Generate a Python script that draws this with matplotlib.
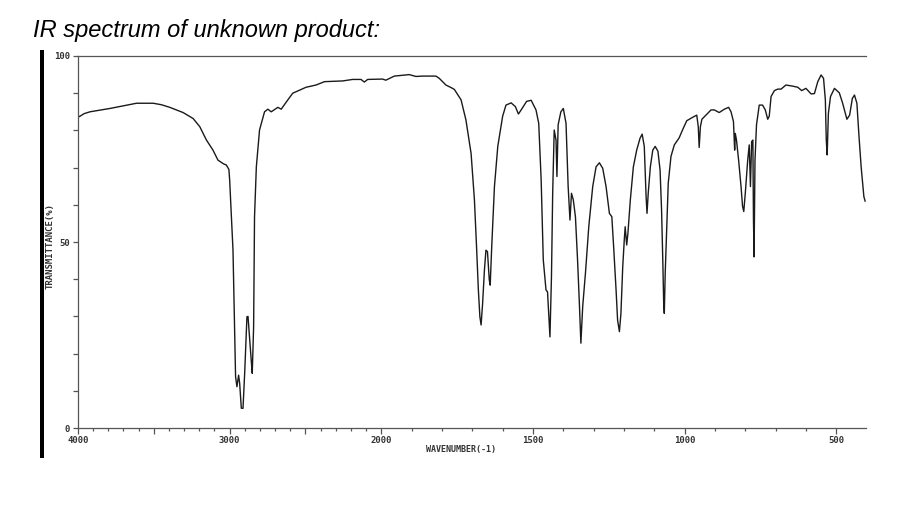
import numpy as np
import matplotlib
matplotlib.use("Agg")
import matplotlib.pyplot as plt
from matplotlib.patches import Rectangle

# ---- data ----
wavenumber = [
    4000, 3991, 3960, 3921, 3850, 3789, 3700, 3614, 3504, 3450, 3395, 3307, 3241, 3197,
    3153, 3110, 3077, 3040, 3022, 3005, 3000, 2978, 2961, 2952, 2941, 2934, 2923, 2912,
    2901, 2886, 2879, 2868, 2857, 2851, 2842, 2836, 2824, 2803, 2770, 2748, 2726, 2682,
    2660, 2620, 2584, 2496, 2430, 2375, 2254, 2189, 2134, 2112, 2090, 1996, 1985, 1957,
    1908, 1886, 1864, 1820, 1809, 1787, 1765, 1759, 1737, 1721, 1704, 1693, 1686, 1680,
    1675, 1671, 1666, 1660, 1655, 1650, 1644, 1641, 1636, 1627, 1616, 1600, 1589, 1572,
    1558, 1548, 1539, 1521, 1506, 1490, 1481, 1473, 1466, 1457, 1452, 1448, 1444, 1439,
    1435, 1430, 1424, 1421, 1417, 1408, 1400, 1391, 1384, 1378, 1373, 1367, 1360, 1353,
    1347, 1342, 1336, 1327, 1316, 1303, 1292, 1281, 1270, 1259, 1248, 1240, 1234, 1226,
    1221, 1215, 1210, 1204, 1199, 1196, 1191, 1187, 1179, 1169, 1158, 1147, 1140, 1133,
    1127, 1124, 1120, 1113, 1105, 1097, 1088, 1081, 1076, 1072, 1069, 1067, 1064, 1059,
    1054, 1045, 1034, 1018, 1007, 993, 974, 960, 955, 952, 948, 943, 930, 913,
    902, 886, 869, 855, 847, 839, 835, 833, 829, 822, 814, 809, 805, 800,
    792, 787, 783, 779, 775, 773, 771, 768, 763, 754, 743, 734, 726, 721,
    715, 704, 693, 682, 666, 644, 627, 614, 600, 583, 572, 561, 550, 542,
    536, 533, 530, 526, 519, 506, 490, 479, 465, 456, 447, 440, 432, 425,
    418, 409, 405,
]
transmittance = [
    84.0, 83.7, 84.5, 85.0, 85.5, 85.9, 86.6, 87.3, 87.3, 86.9, 86.2, 84.8, 83.2, 81.0,
    77.4, 74.7, 72.0, 71.0, 70.7, 69.5, 66.7, 47.8, 13.8, 11.1, 14.2, 12.0, 5.3, 5.3,
    14.7, 29.9, 30.0, 23.7, 17.8, 14.7, 27.2, 56.8, 70.2, 80.1, 85.0, 85.7, 85.0, 86.2,
    85.7, 88.0, 90.0, 91.6, 92.2, 93.1, 93.3, 93.7, 93.7, 93.0, 93.7, 93.8, 93.5, 94.6,
    95.0, 94.5, 94.6, 94.6, 94.0, 92.2, 91.3, 91.0, 88.2, 82.8, 73.8, 61.3, 48.7, 37.1,
    29.9, 27.7, 33.5, 42.5, 47.8, 47.4, 39.8, 38.4, 48.7, 64.9, 75.7, 83.8, 86.8, 87.4,
    86.4, 84.4, 85.5, 87.8, 88.1, 85.5, 81.9, 66.7, 45.2, 37.1, 36.6, 30.8, 24.5, 40.7,
    63.1, 80.1, 77.4, 67.6, 81.5, 85.0, 85.9, 81.9, 64.9, 55.9, 63.1, 61.3, 56.8, 45.2,
    33.5, 22.8, 32.7, 41.6, 54.1, 64.9, 70.2, 71.3, 69.8, 64.9, 57.7, 56.8, 48.7, 37.1,
    29.0, 25.9, 30.8, 43.4, 50.5, 54.1, 49.2, 52.3, 61.3, 70.2, 74.7, 77.9, 79.0, 75.7,
    62.2, 57.7, 63.1, 70.2, 74.7, 75.7, 74.4, 69.4, 58.6, 45.2, 33.5, 30.8, 41.6, 54.1,
    65.8, 73.0, 76.1, 78.0, 80.1, 82.6, 83.5, 84.1, 81.0, 75.4, 81.0, 83.0, 84.1, 85.5,
    85.5, 84.8, 85.7, 86.2, 85.0, 82.4, 74.7, 79.2, 77.4, 72.0, 64.9, 59.6, 58.2, 63.1,
    72.0, 76.1, 64.9, 77.0, 77.4, 55.9, 46.0, 72.0, 81.5, 86.8, 86.8, 85.5, 83.0, 83.8,
    89.1, 90.7, 91.1, 91.1, 92.2, 91.9, 91.6, 90.7, 91.3, 89.8, 89.9, 93.1, 94.9, 94.0,
    88.2, 77.4, 73.4, 84.6, 89.1, 91.3, 90.1, 87.3, 83.0, 84.1, 88.6, 89.5, 87.3, 78.3,
    70.2, 62.2, 61.0,
]

x_major = [4000, 3500, 3000, 2500, 2000, 1500, 1000, 500]
x_major_labels = ["4000", "", "3000", "", "2000", "1500", "1000", "500"]
x_minor = list(range(3900, 400, -100))
y_major = [0, 50, 100]
y_major_labels = ["0", "50", "100"]
y_minor = list(range(0, 101, 10))

title_text = "IR spectrum of unknown product:"
x_label = "WAVENUMBER(-1)"
y_label = "TRANSMITTANCE(%)"


# wavenumber axis: scale is compressed by half above 2000 cm-1
def fwd(w):
    w = np.asarray(w, dtype=float)
    return np.where(w >= 2000, 2000 + (w - 2000) * 0.5, w)


def inv(u):
    u = np.asarray(u, dtype=float)
    return np.where(u >= 2000, 2000 + (u - 2000) * 2.0, u)


W, H = 910, 528
fig = plt.figure(figsize=(W / 100, H / 100), dpi=100)
fig.patch.set_facecolor("white")

ax = fig.add_axes([78 / W, (H - 428) / H, (866 - 78) / W, (428 - 56) / H])
ax.set_xscale("function", functions=(fwd, inv))
ax.plot(wavenumber, transmittance, color="#1a1a1a", linewidth=1.0)
ax.set_xlim(4000, 402)
ax.set_ylim(0, 100)

spine_col = "#555555"
for s in ["top", "bottom", "left"]:
    ax.spines[s].set_color(spine_col)
    ax.spines[s].set_linewidth(0.9)
ax.spines["right"].set_visible(False)

tick_font = dict(family="DejaVu Sans Mono", size=6.5, weight="bold")
ax.set_xticks(x_major)
ax.set_xticklabels(x_major_labels, fontdict=tick_font, color="#333333")
ax.set_xticks(x_minor, minor=True)
ax.set_yticks(y_major)
ax.set_yticklabels(y_major_labels, fontdict=tick_font, color="#333333")
ax.set_yticks(y_minor, minor=True)
ax.tick_params(axis="x", which="major", direction="out", length=4, width=0.9,
               color=spine_col, pad=2)
ax.tick_params(axis="x", which="minor", direction="out", length=1.8, width=0.9,
               color=spine_col)
ax.tick_params(axis="y", which="both", direction="out", length=3.8, width=0.9,
               color=spine_col, pad=2)

ax.set_xlabel(x_label, fontsize=6, family="DejaVu Sans Mono", weight="bold",
              color="#333333")
ax.xaxis.set_label_coords((461 - 78) / 788, -0.046)
ax.set_ylabel(y_label, fontsize=6.5, family="DejaVu Sans Mono", weight="bold",
              color="#333333")
ax.yaxis.set_label_coords((55 - 78) / 788, 0.49)

# thick black bar on the left
fig.add_artist(Rectangle((40 / W, (H - 458) / H), 4 / W, 408 / H,
                         transform=fig.transFigure, facecolor="black",
                         edgecolor="none"))

fig.text(33 / W, 1 - 31 / H, title_text, ha="left", va="center",
         fontsize=17, style="italic", family="Liberation Sans", color="black")

fig.savefig("out.png", dpi=100)
